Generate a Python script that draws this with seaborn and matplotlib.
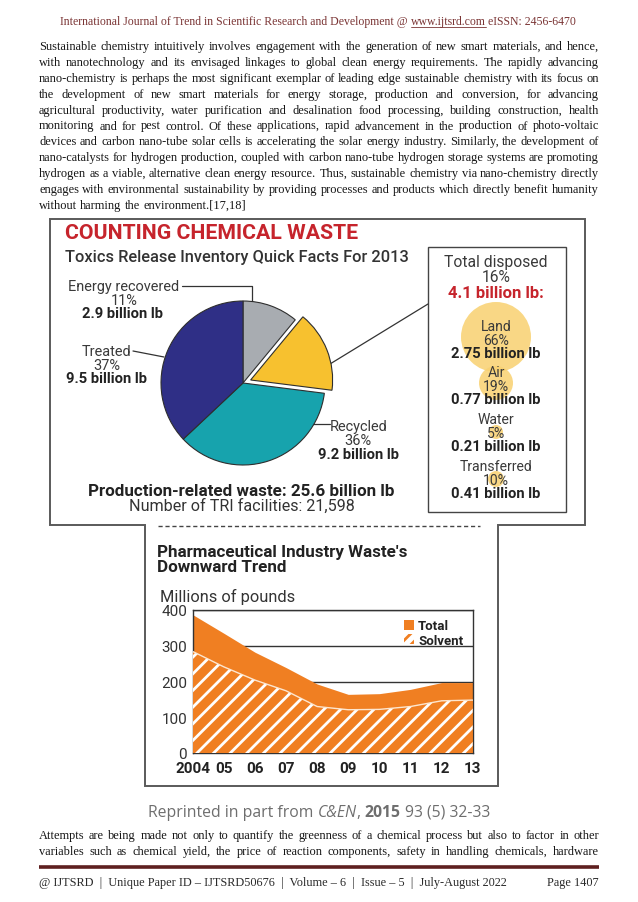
import numpy as np
import pandas as pd
import matplotlib
matplotlib.use("Agg")
import matplotlib.pyplot as plt
import seaborn as sns
from matplotlib.patches import Rectangle, Circle, Patch, Polygon

# ---- data ----
pie_labels = ["Energy recovered", "Total disposed", "Recycled", "Treated"]
pie_shares = [11, 16, 36, 37]
pie_amounts = [2.9, 4.1, 9.2, 9.5]
pie_colors = ["#a8acb1", "#f7c12f", "#17a3ad", "#2f2f86"]

disposed_labels = ["Land", "Air", "Water", "Transferred"]
disposed_shares = [66, 19, 5, 10]
disposed_amounts = [2.75, 0.77, 0.21, 0.41]

years = [2004, 2005, 2006, 2007, 2008, 2009, 2010, 2011, 2012, 2013]
year_labels = ["2004", "05", "06", "07", "08", "09", "10", "11", "12", "13"]
total = [387, 335, 282, 239, 193, 164, 166, 178, 197, 197]
solvent = [284, 241, 204, 174, 130, 121, 122, 130, 146, 148]

para1 = [
    "Sustainable chemistry intuitively involves engagement with the generation of new smart materials, and hence,",
    "with nanotechnology and its envisaged linkages to global clean energy requirements. The rapidly advancing",
    "nano-chemistry is perhaps the most significant exemplar of leading edge sustainable chemistry with its focus on",
    "the development of new smart materials for energy storage, production and conversion, for advancing",
    "agricultural productivity, water purification and desalination food processing, building construction, health",
    "monitoring and for pest control. Of these applications, rapid advancement in the production of photo-voltaic",
    "devices and carbon nano-tube solar cells is accelerating the solar energy industry. Similarly, the development of",
    "nano-catalysts for hydrogen production, coupled with carbon nano-tube hydrogen storage systems are promoting",
    "hydrogen as a viable, alternative clean energy resource. Thus, sustainable chemistry via nano-chemistry directly",
    "engages with environmental sustainability by providing processes and products which directly benefit humanity",
    "without harming the environment.[17,18]",
]
para2 = [
    "Attempts are being made not only to quantify the greenness of a chemical process but also to factor in other",
    "variables such as chemical yield, the price of reaction components, safety in handling chemicals, hardware",
]

W, H = 638, 903
ORANGE = "#f07f22"
SERIF = "Liberation Serif"

sns.set_theme(style="white")
plt.rcParams["font.family"] = ["Roboto", "DejaVu Sans"]
plt.rcParams["hatch.linewidth"] = 2.0

fig = plt.figure(figsize=(W / 100, H / 100), dpi=100)
fig.patch.set_facecolor("white")
ax0 = fig.add_axes([0, 0, 1, 1])
ax0.set_xlim(0, W)
ax0.set_ylim(H, 0)
ax0.axis("off")
renderer = fig.canvas.get_renderer()


def px_axes(left, top, width, height):
    return fig.add_axes([left / W, 1 - (top + height) / H, width / W, height / H])


def tw(s, **kw):
    t = ax0.text(0, 0, s, **kw)
    w = t.get_window_extent(renderer).width
    t.remove()
    return w


def fit(s, width, **kw):
    return 10 * width / tw(s, fontsize=10, **kw)


def put(x, y, s, fs, ha="center", **kw):
    ax0.text(x, y, s, fontsize=fs, ha=ha, va="center", **kw)


def paragraph(lines, x0, x1, y0, pitch, fs, justify_last=False):
    space = tw("n n", fontsize=fs, family=SERIF) - tw("nn", fontsize=fs, family=SERIF)
    for i, line in enumerate(lines):
        words = line.split()
        widths = [tw(w, fontsize=fs, family=SERIF) for w in words]
        last = i == len(lines) - 1 and not justify_last
        gap = space if last else (x1 - x0 - sum(widths)) / (len(words) - 1)
        x = x0
        for w, wd in zip(words, widths):
            ax0.text(x, y0 + i * pitch, w, fontsize=fs, ha="left", va="center",
                     family=SERIF, color="#161616")
            x += wd + gap


def runs(parts, x0, y, fs, color, family, draw=True):
    space = tw("n n", fontsize=fs, family=family) - tw("nn", fontsize=fs, family=family)
    x = x0
    for s, style, gap in parts:
        if gap:
            x += space
        if draw:
            ax0.text(x, y, s, fontsize=fs, ha="left", va="center", color=color,
                     family=family, **style)
        x += tw(s, fontsize=fs, family=family, **style)
    return x - x0


# ---- page header ----
hdr = [("International Journal of Trend in Scientific Research and Development @", {}, False),
       ("www.ijtsrd.com", {}, True), ("eISSN: 2456-6470", {}, True)]
hfs = 10 * 518 / runs(hdr, 0, 0, 10, "k", SERIF, draw=False)
hx = 60
space = tw("n n", fontsize=hfs, family=SERIF) - tw("nn", fontsize=hfs, family=SERIF)
for s, st, gap in hdr:
    if gap:
        hx += space
    ax0.text(hx, 22, s, fontsize=hfs, ha="left", va="center", color="#7a3434", family=SERIF)
    wd = tw(s, fontsize=hfs, family=SERIF)
    if s.startswith("www"):
        ax0.plot([hx, hx + wd], [27.5, 27.5], color="#7a3434", lw=0.6)
    hx += wd

# ---- body text ----
bfs = 10 * 560 / max(tw(l, fontsize=10, family=SERIF) for l in para1[:-1] + para2)
paragraph(para1, 39, 599, 47, 15.9, bfs)
paragraph(para2, 39, 599, 836, 15.9, bfs, justify_last=True)

# ---- footer ----
ax0.plot([39, 599], [868, 868], color="#5e1f1f", lw=2.6, solid_capstyle="butt")
foot = "@ IJTSRD  |  Unique Paper ID – IJTSRD50676  |  Volume – 6  |  Issue – 5  |  July-August 2022"
ffs = fit(foot, 468, family=SERIF)
ax0.text(39, 883, foot, fontsize=ffs, ha="left", va="center", family=SERIF, color="#2a2a2a")
ax0.text(599, 883, "Page 1407", fontsize=ffs, ha="right", va="center", family=SERIF, color="#2a2a2a")

# ---- chart frames ----
frame = Polygon([(50, 220), (585, 220), (585, 526), (498, 526), (498, 787), (145, 787),
                 (145, 526), (50, 526)], closed=True, fill=False, edgecolor="#5a5a5a", lw=1.4)
ax0.add_patch(frame)
ax0.plot([158, 480], [527, 527], color="#444444", lw=1.0, ls=(0, (3, 2)))
ax0.add_patch(Rectangle((428, 248), 138, 265, fill=False, edgecolor="#444444", lw=1.0))

# ---- titles ----
put(65, 234, "COUNTING CHEMICAL WASTE", fit("COUNTING CHEMICAL WASTE", 293, weight="bold"),
    ha="left", weight="bold", color="#c6242c")
put(65, 258, "Toxics Release Inventory Quick Facts For 2013",
    fit("Toxics Release Inventory Quick Facts For 2013", 342, weight="medium"),
    ha="left", weight="medium", color="#333333")

# ---- pie ----
cx, cy, R = 243, 384, 82
pax = px_axes(cx - 1.3 * R, cy - 1.3 * R, 2.6 * R, 2.6 * R)
pax.pie(pie_shares, colors=pie_colors, startangle=90, counterclock=False,
        explode=[0, 0.1, 0, 0], radius=1,
        wedgeprops=dict(edgecolor="#2e2e2e", linewidth=0.8))
pax.set_xlim(-1.3, 1.3)
pax.set_ylim(-1.3, 1.3)
pax.set_aspect("equal")
pax.axis("off")

lab_fs = fit("Energy recovered", 112)
bold_fs = fit("2.9 billion lb", 82, weight="bold")
grey = "#3a3a3a"

# energy recovered
put(124, 287, f"{pie_labels[0]}", lab_fs, color=grey)
put(124, 301, f"{pie_shares[0]}%", lab_fs, color=grey)
put(123, 314, f"{pie_amounts[0]} billion lb", bold_fs, weight="bold", color="#222222")
ax0.plot([182, 252, 252], [287, 287, 308], color="#333333", lw=0.9)
# treated
put(107, 352, pie_labels[3], lab_fs, color=grey)
put(107, 366, f"{pie_shares[3]}%", lab_fs, color=grey)
put(106, 379, f"{pie_amounts[3]} billion lb", bold_fs, weight="bold", color="#222222")
ax0.plot([133, 164], [352, 358], color="#333333", lw=0.9)
# recycled
put(359, 427, pie_labels[2], lab_fs, color=grey)
put(358, 441, f"{pie_shares[2]}%", lab_fs, color=grey)
put(359, 455, f"{pie_amounts[2]} billion lb", bold_fs, weight="bold", color="#222222")
ax0.plot([309, 330], [425, 425], color="#333333", lw=0.9)
# connector to disposed box
ax0.plot([330, 428], [365, 305], color="#333333", lw=0.9)

s1 = "Production-related waste: 25.6 billion lb"
put(241, 492, s1, fit(s1, 308, weight="bold"), weight="bold", color="#222222")
s2 = "Number of TRI facilities: 21,598"
put(242, 506, s2, fit(s2, 225), color="#333333")

# ---- disposed box ----
bx = 496
put(bx, 263, pie_labels[1], fit("Total disposed", 103), color=grey)
put(bx, 278, f"{pie_shares[1]}%", fit("Total disposed", 103), color=grey)
put(bx, 294, f"{pie_amounts[1]} billion lb:", fit("4.1 billion lb:", 97, weight="bold"),
    weight="bold", color="#c6242c")
circ_y = [338, 384, 433, 480]
circ_r = [35, 17, 7, 8]
label_y = [327, 373, 420, 467]
dfs = fit("Transferred", 73)
dbfs = fit("2.75 billion lb", 90, weight="bold")
for name, share, amt, yc, r, yl in zip(disposed_labels, disposed_shares, disposed_amounts,
                                       circ_y, circ_r, label_y):
    ax0.add_patch(Circle((bx, yc), r, facecolor="#f8d170", edgecolor="none", alpha=0.85, zorder=1))
    put(bx, yl, name, dfs, color=grey, zorder=3)
    put(bx, yl + 14, f"{share}%", dfs, color=grey, zorder=3)
    put(bx, yl + 27, f"{amt:.2f} billion lb", dbfs, weight="bold", color="#222222", zorder=3)

# ---- pharmaceutical chart ----
t1 = "Pharmaceutical Industry Waste's"
tfs = fit(t1, 251, weight="bold")
put(157, 553, t1, tfs, ha="left", weight="bold", color="#222222")
put(157, 568, "Downward Trend", tfs, ha="left", weight="bold", color="#222222")
put(160, 597, "Millions of pounds", fit("Millions of pounds", 135), ha="left", color="#333333")

df = pd.DataFrame({"year": years, "total": total, "solvent": solvent})
lax = px_axes(192.7, 611, 280, 143)
lax.set_facecolor("white")
lax.fill_between(df["year"], 0, df["total"], color=ORANGE, lw=0, zorder=2)
lax.fill_between(df["year"], 0, df["solvent"], facecolor=ORANGE, edgecolor="white",
                 hatch="//", lw=0, zorder=3)
sns.lineplot(data=df, x="year", y="solvent", color="#fde6cf", lw=1.0, ax=lax, zorder=4)
lax.set_xlim(2004, 2013)
lax.set_ylim(0, 400)
lax.set_yticks([0, 100, 200, 300, 400])
lax.set_xticks(years)
lax.set_xticklabels(year_labels, fontsize=11, fontweight="bold", color="#222222")
lax.set_yticklabels(["0", "100", "200", "300", "400"], fontsize=11, color="#333333")
lax.grid(axis="y", color="#333333", lw=1.0, zorder=1)
lax.grid(axis="x", visible=False)
lax.set_axisbelow(True)
lax.set_xlabel("")
lax.set_ylabel("")
for sp in lax.spines.values():
    sp.set_visible(True)
    sp.set_color("#333333")
    sp.set_linewidth(1.0)
lax.tick_params(axis="x", direction="in", length=3, width=0.8, color="#333333", pad=6)
lax.tick_params(axis="y", length=0, pad=4)
handles = [Patch(facecolor=ORANGE, edgecolor="none", label="Total"),
           Patch(facecolor="white", edgecolor=ORANGE, hatch="///", lw=0, label="Solvent")]
leg = lax.legend(handles=handles, loc="upper right", frameon=False, handlelength=0.8,
                 handleheight=0.8, handletextpad=0.3, labelspacing=0.1, borderaxespad=0.3,
                 prop=dict(weight="bold", size=9.5))
for t in leg.get_texts():
    t.set_color("#222222")

# ---- credit ----
credit = [("Reprinted in part from", {}, False), ("C&EN", {"style": "italic"}, True),
          (",", {}, False), ("2015", {"weight": "bold"}, True), ("93 (5) 32-33", {}, True)]
cfs = 10 * 342 / runs(credit, 0, 0, 10, "k", "Open Sans", draw=False)
runs(credit, 148, 813, cfs, "#6e6e6e", "Open Sans")

fig.savefig("out.png", dpi=100)
